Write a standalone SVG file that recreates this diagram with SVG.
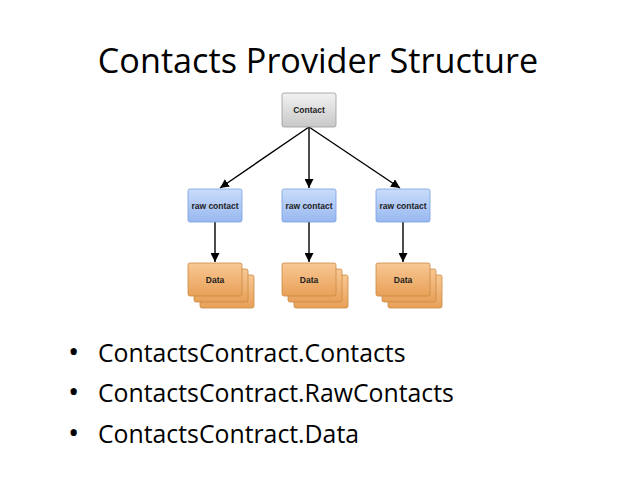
<svg xmlns="http://www.w3.org/2000/svg" width="638" height="478" viewBox="0 0 638 478">
<defs>
<linearGradient id="gg" x1="0" y1="0" x2="0" y2="1"><stop offset="0" stop-color="#f2f2f2"/><stop offset="1" stop-color="#c8c8c8"/></linearGradient>
<linearGradient id="gb" x1="0" y1="0" x2="0" y2="1"><stop offset="0" stop-color="#c9dcfb"/><stop offset="1" stop-color="#98b8f0"/></linearGradient>
<linearGradient id="go" x1="0" y1="0" x2="0" y2="1"><stop offset="0" stop-color="#f8c894"/><stop offset="1" stop-color="#e8a058"/></linearGradient>
<marker id="ah" viewBox="0 0 10 10" refX="10" refY="5" markerWidth="9" markerHeight="9" orient="auto" markerUnits="userSpaceOnUse"><path d="M0,0L10,5L0,10z" fill="#000"/></marker>
</defs>
<style>
.t{font-family:"Open Sans","Liberation Sans",sans-serif;fill:#000}
.n{font-family:"Liberation Sans",Arial,sans-serif;font-weight:bold;font-size:8.5px;fill:#222;text-anchor:middle}
.g{fill:url(#gg);stroke:#999;stroke-width:0.8}
.b{fill:url(#gb);stroke:#7a9ee0;stroke-width:0.8}
.o{fill:url(#go);stroke:#c98a45;stroke-width:0.8}
.c{stroke:#000;stroke-width:1.4;fill:none;marker-end:url(#ah)}
</style>
<rect width="638" height="478" fill="#fff"/>
<text class="t" x="318" y="73" font-size="34.2" text-anchor="middle">Contacts Provider Structure</text>
<g id="connectors">
<line class="c" x1="309" y1="127" x2="220" y2="188"/>
<line class="c" x1="309" y1="127" x2="309" y2="188"/>
<line class="c" x1="309" y1="127" x2="400" y2="188"/>
<line class="c" x1="215" y1="222" x2="215" y2="262"/>
<line class="c" x1="309" y1="222" x2="309" y2="262"/>
<line class="c" x1="403" y1="222" x2="403" y2="262"/>
</g>
<g id="contact"><rect class="g" x="282" y="93" width="54" height="34" rx="2"/><text class="n" x="309" y="113">Contact</text></g>
<g id="raw1"><rect class="b" x="188" y="189" width="54" height="33" rx="2"/><text class="n" x="215" y="209">raw contact</text></g>
<g id="raw2"><rect class="b" x="282" y="189" width="54" height="33" rx="2"/><text class="n" x="309" y="209">raw contact</text></g>
<g id="raw3"><rect class="b" x="376" y="189" width="54" height="33" rx="2"/><text class="n" x="403" y="209">raw contact</text></g>
<g id="data1"><rect class="o" x="200" y="275" width="54" height="33" rx="2"/><rect class="o" x="194" y="269" width="54" height="33" rx="2"/><rect class="o" x="188" y="263" width="54" height="33" rx="2"/><text class="n" x="215" y="283">Data</text></g>
<g id="data2"><rect class="o" x="294" y="275" width="54" height="33" rx="2"/><rect class="o" x="288" y="269" width="54" height="33" rx="2"/><rect class="o" x="282" y="263" width="54" height="33" rx="2"/><text class="n" x="309" y="283">Data</text></g>
<g id="data3"><rect class="o" x="388" y="275" width="54" height="33" rx="2"/><rect class="o" x="382" y="269" width="54" height="33" rx="2"/><rect class="o" x="376" y="263" width="54" height="33" rx="2"/><text class="n" x="403" y="283">Data</text></g>
<g class="t" font-size="24.8">
<text x="68" y="362" font-size="30">•</text><text x="98" y="362">ContactsContract.Contacts</text>
<text x="68" y="402" font-size="30">•</text><text x="98" y="402">ContactsContract.RawContacts</text>
<text x="68" y="443" font-size="30">•</text><text x="98" y="443">ContactsContract.Data</text>
</g>
</svg>
